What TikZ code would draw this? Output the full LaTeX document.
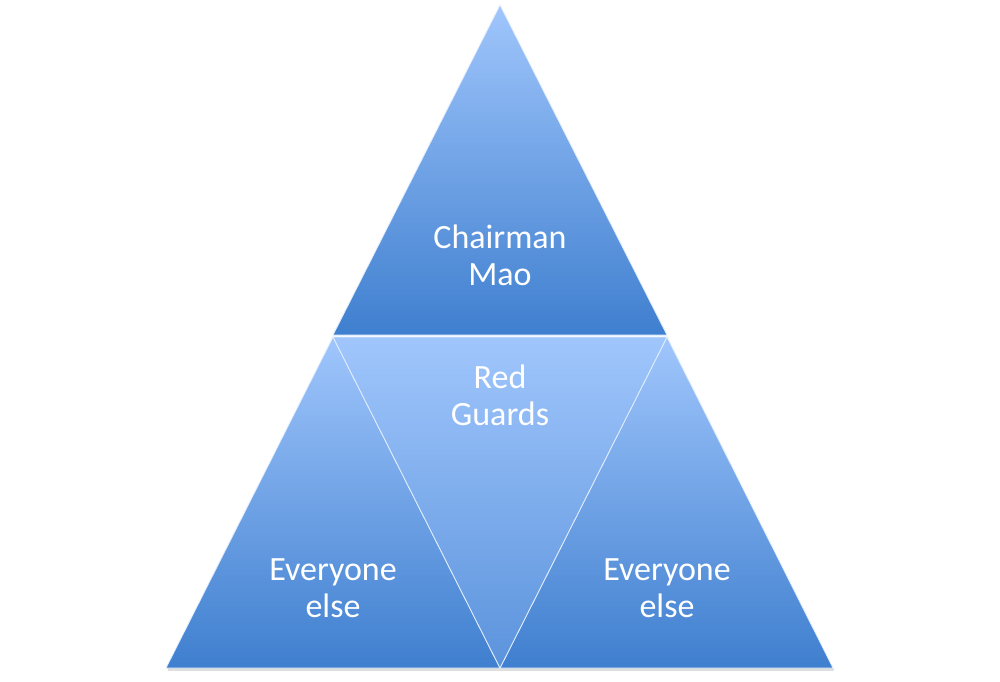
\documentclass[tikz,border=0pt]{standalone}
\usepackage{fontspec}
\setmainfont{Carlito}
\definecolor{lightb}{HTML}{A0C6FC}
\definecolor{darkb}{HTML}{3F7FCF}
\definecolor{midb}{HTML}{5B93DC}
\begin{document}
\begin{tikzpicture}[x=1pt,y=-1pt,
  tri/.style={draw=white!70!lightb,line width=0.8pt,top color=lightb,bottom color=darkb,shading angle=0},
  lbl/.style={text=white,font=\fontsize{34}{37}\selectfont,align=center}]
\useasboundingbox (0,0) rectangle (1000,681);
\fill[gray!25] (168,671) -- (834,671) -- (834,668) -- (168,668) -- cycle;
\path[tri] (500,5) -- (667,335) -- (333,335) -- cycle;
\path[tri] (333,337) -- (500,668) -- (166,668) -- cycle;
\path[tri] (667,337) -- (833,668) -- (500,668) -- cycle;
\path[tri,bottom color=midb] (333,337) -- (667,337) -- (500,668) -- cycle;
\node[lbl] (top) at (500,255) {Chairman\\Mao};
\node[lbl] (mid) at (500,395) {Red\\Guards};
\node[lbl] (left) at (333,588) {Everyone\\else};
\node[lbl] (right) at (667,588) {Everyone\\else};
\end{tikzpicture}
\end{document}
